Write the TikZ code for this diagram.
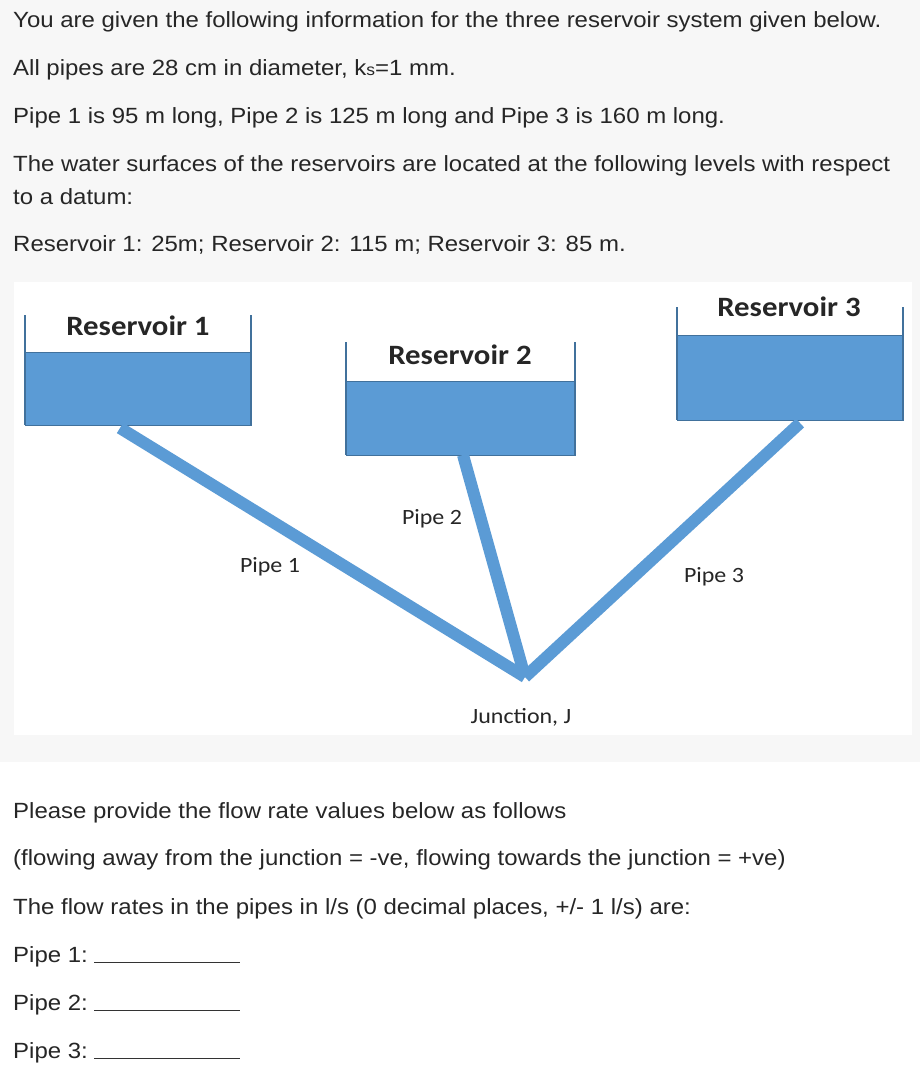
\documentclass[tikz,border=0pt]{standalone}
\usepackage{fontspec}
\setmainfont{Liberation Sans}[FakeStretch=1.09]
\newfontfamily\calfont{Carlito}[FakeStretch=1.1]
\begin{document}
\begin{tikzpicture}[x=1pt,y=-1pt,
  txt/.style={anchor=west,inner sep=0pt,font=\fontsize{22}{26}\selectfont,text=black!85},
  reslab/.style={inner sep=0pt,font=\calfont\bfseries\fontsize{28}{32}\selectfont,text=black!85},
  pipelab/.style={inner sep=0pt,font=\calfont\fontsize{21.8}{26}\selectfont,text=black!85},
  water/.style={fill=wblue,draw=wedge,line width=1pt},
  wall/.style={draw=wedge,line width=1.5pt},
  pipe/.style={draw=wblue,line width=12pt}]
\definecolor{wblue}{HTML}{5B9BD5}
\definecolor{wedge}{HTML}{41719C}
\useasboundingbox (0,0) rectangle (920,1082);
\fill[black!3] (0,0) rectangle (920,762);
\fill[white] (14,282) rectangle (912,735);
\node[txt] (t1) at (13,22) {You are given the following information for the three reservoir system given below.};
\node[txt] (t2) at (13,70) {All pipes are 28 cm in diameter, k{\fontsize{16}{18}\selectfont s}=1 mm.};
\node[txt] (t3) at (13,118) {Pipe 1 is 95 m long, Pipe 2 is 125 m long and Pipe 3 is 160 m long.};
\node[txt] (t4) at (13,166) {The water surfaces of the reservoirs are located at the following levels with respect};
\node[txt] (t5) at (13,197) {to a datum:};
\node[txt] (t6) at (13,245) {Reservoir 1: 25m; Reservoir 2: 115 m; Reservoir 3: 85 m.};
% reservoirs
\draw[water] (25,352) rectangle (251,425);
\draw[wall] (25,315) -- (25,425) (251,315) -- (251,425);
\draw[water] (346,381) rectangle (575,455);
\draw[wall] (346,342) -- (346,455) (575,342) -- (575,455);
\draw[water] (677,335) rectangle (903,420);
\draw[wall] (677,307) -- (677,420) (903,307) -- (903,420);
\node[reslab] (r1) at (138,326) {Reservoir 1};
\node[reslab] (r2) at (460,355) {Reservoir 2};
\node[reslab] (r3) at (789,307) {Reservoir 3};
% pipes
\coordinate (J) at (525,677);
\coordinate (p1) at (120,428);
\coordinate (p2) at (463,455);
\coordinate (p3) at (800,423);
\draw[pipe] (p1) -- (J);
\draw[pipe] (p2) -- (J);
\draw[pipe] (p3) -- (J);
\node[pipelab] (l1) at (270,567) {Pipe 1};
\node[pipelab] (l2) at (432,519) {Pipe 2};
\node[pipelab] (l3) at (714,577) {Pipe 3};
\node[pipelab] (lj) at (521,717) {Junction, J};
% questions
\node[txt] (q1) at (13,813) {Please provide the flow rate values below as follows};
\node[txt] (q2) at (13,860) {(flowing away from the junction = -ve, flowing towards the junction = +ve)};
\node[txt] (q3) at (13,909) {The flow rates in the pipes in l/s (0 decimal places, +/- 1 l/s) are:};
\node[txt] (a1) at (13,957) {Pipe 1:};
\node[txt] (a2) at (13,1005) {Pipe 2:};
\node[txt] (a3) at (13,1053) {Pipe 3:};
\foreach \n in {a1,a2,a3} \draw[black!80,line width=0.8pt] ([xshift=6pt]\n.base east) -- (240,0 |- \n.base);
\end{tikzpicture}
\end{document}
